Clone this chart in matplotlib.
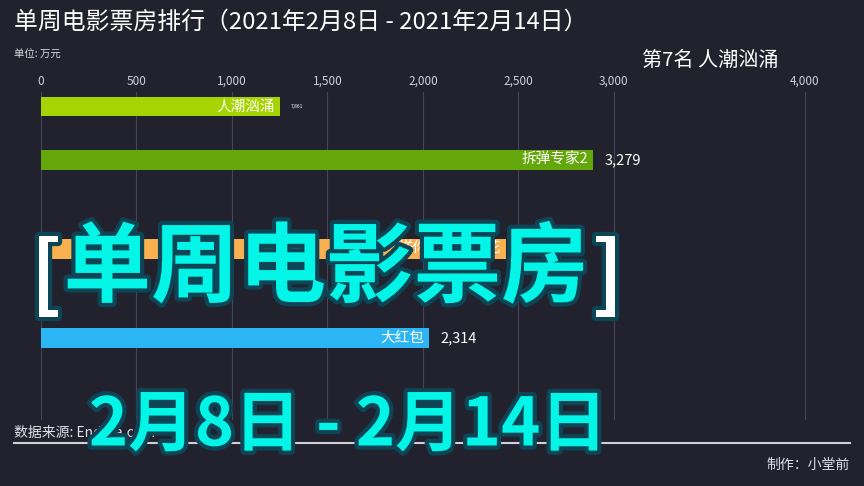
import matplotlib
matplotlib.use("Agg")
import matplotlib.pyplot as plt
import matplotlib.patheffects as pe

plt.rcParams['font.family'] = ['Noto Sans CJK SC', 'DejaVu Sans']

# data read from the frame
movies = ['人潮汹涌', '拆弹专家2', '送你一朵小红花', '大红包']
values = [1250, 2890, 2435, 2030]
shown_labels = ['7,861', '3,279', '', '2,314']
bar_colors = ['#a6d400', '#64a70b', '#f8b14e', '#2cb5f4']
slots = [0.40, 1.0, 2.0, 3.0]
ticks = [0, 500, 1000, 1500, 2000, 2500, 3000, 4000]

bg = '#22222f'
W, H = 864, 486

def fx(x):
    return x / W

def fy(y):
    return 1 - y / H

fig = plt.figure(figsize=(8.64, 4.86), dpi=100, facecolor=bg)
ax = fig.add_axes([fx(41), fy(420), (843 - 41) / W, (420 - 92) / H])
ax.set_facecolor(bg)
ax.set_xlim(0, 4200)
ax.set_ylim(3.921, 0.236)

ax.barh(slots, values, height=0.22, color=bar_colors, zorder=3)
for s, v, name, lab in zip(slots, values, movies, shown_labels):
    ax.text(v - 25, s, name, color='white', fontsize=10.5, ha='right', va='center', zorder=4)
    if lab:
        size = 3.5 if lab == '7,861' else 10.5
        ax.text(v + 60, s, lab, color='white', fontsize=size, ha='left', va='center', zorder=4)

ax.set_xticks(ticks)
ax.set_xticklabels([f'{t:,}' for t in ticks])
ax.xaxis.tick_top()
ax.tick_params(axis='x', length=0, pad=3, labelsize=8.5, labelcolor='#d0d0d8')
ax.set_yticks([])
ax.grid(axis='x', color='#45455a', lw=0.8, zorder=0)
for sp in ax.spines.values():
    sp.set_visible(False)

# header / footer texts
fig.text(fx(14), fy(22), '单周电影票房排行（2021年2月8日 - 2021年2月14日）',
         color='white', fontsize=17.2, va='center', ha='left')
fig.text(fx(14), fy(55), '单位: 万元', color='#d8d8e0', fontsize=7.5, va='center')
fig.text(fx(710), fy(60), '第7名 人潮汹涌', color='white', fontsize=14.5, va='center', ha='center')
fig.text(fx(14), fy(433), '数据来源: Endata.com', color='#e0e0e8', fontsize=10, va='center')
fig.add_artist(plt.Line2D([fx(14), fx(850)], [fy(443), fy(443)], color='#d0d0d8', lw=1.5))
fig.text(fx(850), fy(465), '制作：小堂前', color='#e0e0e8', fontsize=10, va='center', ha='right')

# big overlay captions
outline = [pe.withStroke(linewidth=6, foreground='#0c4656')]
fig.text(fx(326), fy(270), '单周电影票房', color='#02f5e6', fontsize=63, weight='heavy',
         ha='center', va='center', path_effects=outline)
fig.text(fx(46), fy(278), '[', color='white', fontsize=60, weight='heavy',
         ha='center', va='center', path_effects=outline)
fig.text(fx(608), fy(278), ']', color='white', fontsize=60, weight='heavy',
         ha='center', va='center', path_effects=outline)
fig.text(fx(348), fy(426), '2月8日 - 2月14日', color='#02f5e6', fontsize=48, weight='heavy',
         ha='center', va='center', path_effects=outline)

fig.savefig('out.png', dpi=100, facecolor=bg)
